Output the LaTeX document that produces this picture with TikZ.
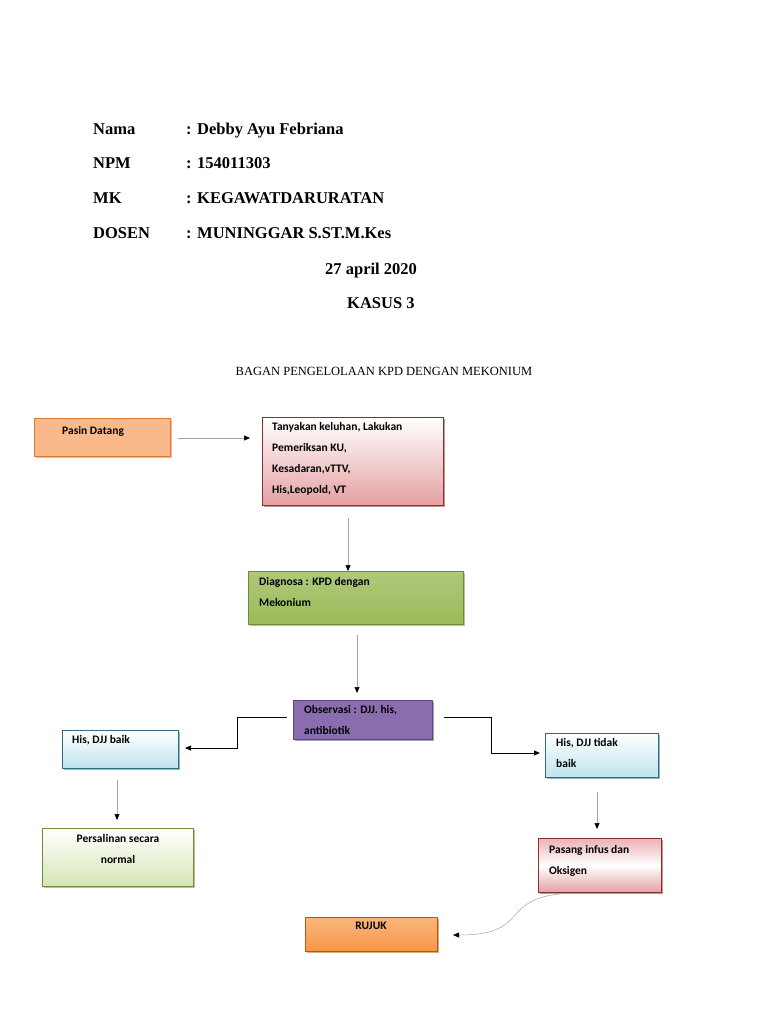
\documentclass[tikz,border=0pt]{standalone}
\usepackage{fontspec}
\setmainfont{Liberation Serif}
\newfontfamily\carl{Carlito}
\usetikzlibrary{arrows.meta,shadows}
\definecolor{orf}{HTML}{F9B98A}\definecolor{ord}{HTML}{E0782F}
\definecolor{pkf}{HTML}{E5A0A2}\definecolor{pkd}{HTML}{8C2F32}
\definecolor{grf}{HTML}{9BBB59}\definecolor{grd}{HTML}{6F8C34}
\definecolor{puf}{HTML}{8A6DAE}\definecolor{pud}{HTML}{5C4580}
\definecolor{blf}{HTML}{BFE3EE}\definecolor{bld}{HTML}{2E6E82}
\definecolor{lgf}{HTML}{D6E6B4}\definecolor{lgd}{HTML}{6F8C34}
\definecolor{rjf}{HTML}{F79646}\definecolor{rjd}{HTML}{B65708}
\tikzset{
 box/.style={draw=#1, line width=1pt, drop shadow={shadow xshift=1.5pt,shadow yshift=-1.5pt,fill=#1}},
 lbl/.style={font=\carl\bfseries\fontsize{11.5}{21}\selectfont, align=left, anchor=north west, inner sep=0},
 hd/.style={font=\bfseries\fontsize{16.5}{20}\selectfont, anchor=base west, inner sep=0},
 ar/.style={-{Triangle[length=6pt,width=5pt]}, line width=0.5pt},
 gar/.style={line width=0.5pt, draw=gray!70, -{Triangle[length=6pt,width=5pt,color=black]}},
}
\begin{document}
\begin{tikzpicture}[x=1pt,y=-1pt]
\useasboundingbox (0,0) rectangle (768,1024);
\fill[white] (0,0) rectangle (768,1024);
% header
\node[hd] (n1) at (93,135) {Nama};  \node[hd] (v1) at (186,135) {: Debby Ayu Febriana};
\node[hd] (n2) at (93,169) {NPM};   \node[hd] (v2) at (186,169) {: 154011303};
\node[hd] (n3) at (93,204) {MK};    \node[hd] (v3) at (186,204) {: KEGAWATDARURATAN};
\node[hd] (n4) at (93,239) {DOSEN}; \node[hd] (v4) at (186,239) {: MUNINGGAR S.ST.M.Kes};
\node[hd] (d) at (325,274) {27 april 2020};
\node[hd] (k) at (347,308) {KASUS 3};
\node[font=\fontsize{12.5}{15}\selectfont, anchor=base, inner sep=0] (t) at (384,375) {BAGAN PENGELOLAAN KPD DENGAN MEKONIUM};
% boxes
\node[box=ord, fill=orf, minimum width=136pt, minimum height=38pt, anchor=north west, inner sep=0] (pd) at (34,418) {};
\node[lbl] at (62,426) {Pasin Datang};
\node[box=pkd, top color=white, bottom color=pkf, minimum width=181pt, minimum height=88pt, anchor=north west, inner sep=0] (tk) at (262,417) {};
\node[lbl] at (272,422) {Tanyakan keluhan, Lakukan\\Pemeriksan KU,\\Kesadaran,vTTV,\\His,Leopold, VT};
\node[box=grd, top color=grf!80!white, bottom color=grf, minimum width=215pt, minimum height=53pt, anchor=north west, inner sep=0] (dg) at (248,571) {};
\node[lbl] at (259,577) {Diagnosa : KPD dengan\\Mekonium};
\node[box=pud, fill=puf, minimum width=139pt, minimum height=39pt, anchor=north west, inner sep=0] (ob) at (293,700) {};
\node[lbl] at (304,705) {Observasi : DJJ. his,\\antibiotik};
\node[box=bld, top color=white, bottom color=blf, minimum width=116pt, minimum height=38pt, anchor=north west, inner sep=0] (hb) at (62,730) {};
\node[lbl] at (72,735) {His, DJJ baik};
\node[box=bld, top color=white, bottom color=blf, minimum width=113pt, minimum height=44pt, anchor=north west, inner sep=0] (ht) at (545,733) {};
\node[lbl] at (556,738) {His, DJJ tidak\\baik};
\node[box=lgd, top color=white, bottom color=lgf, minimum width=151pt, minimum height=58pt, anchor=north west, inner sep=0] (ps) at (42,828) {};
\node[lbl, align=center, anchor=north] at (118,834) {Persalinan secara\\normal};
\node[box=pkd, top color=pkf!80!white, bottom color=pkf, middle color=white, minimum width=123pt, minimum height=54pt, anchor=north west, inner sep=0] (pi) at (538,838) {};
\node[lbl] at (549,845) {Pasang infus dan\\Oksigen};
\node[box=rjd, top color=rjf!70!white, bottom color=rjf, minimum width=132pt, minimum height=34pt, anchor=north west, inner sep=0] (rj) at (305,917) {};
\node[lbl, anchor=north] at (371,922) {RUJUK};
% connector ends
\coordinate (a1) at (178,438); \coordinate (a2) at (250,438);
\coordinate (b1) at (348,518); \coordinate (b2) at (348,571);
\coordinate (c1) at (357,635); \coordinate (c2) at (357,693);
\coordinate (l1) at (287,717); \coordinate (l2) at (185,748);
\coordinate (r1) at (444,717); \coordinate (r2) at (540,753);
\coordinate (e1) at (117,780); \coordinate (e2) at (117,820);
\coordinate (f1) at (597,792); \coordinate (f2) at (597,829);
\coordinate (g1) at (560,894); \coordinate (g2) at (453,935);
\draw[gar] (a1) -- (a2);
\draw[gar] (b1) -- (b2);
\draw[gar] (c1) -- (c2);
\draw[ar, line width=0.8pt] (l1) -- (237,717) -- (237,748) -- (l2);
\draw[ar, line width=0.8pt] (r1) -- (491,717) -- (491,753) -- (r2);
\draw[gar] (e1) -- (e2);
\draw[gar] (f1) -- (f2);
\draw[gar] (g1) .. controls (500,900) and (530,935) .. (g2);
\end{tikzpicture}
\end{document}
